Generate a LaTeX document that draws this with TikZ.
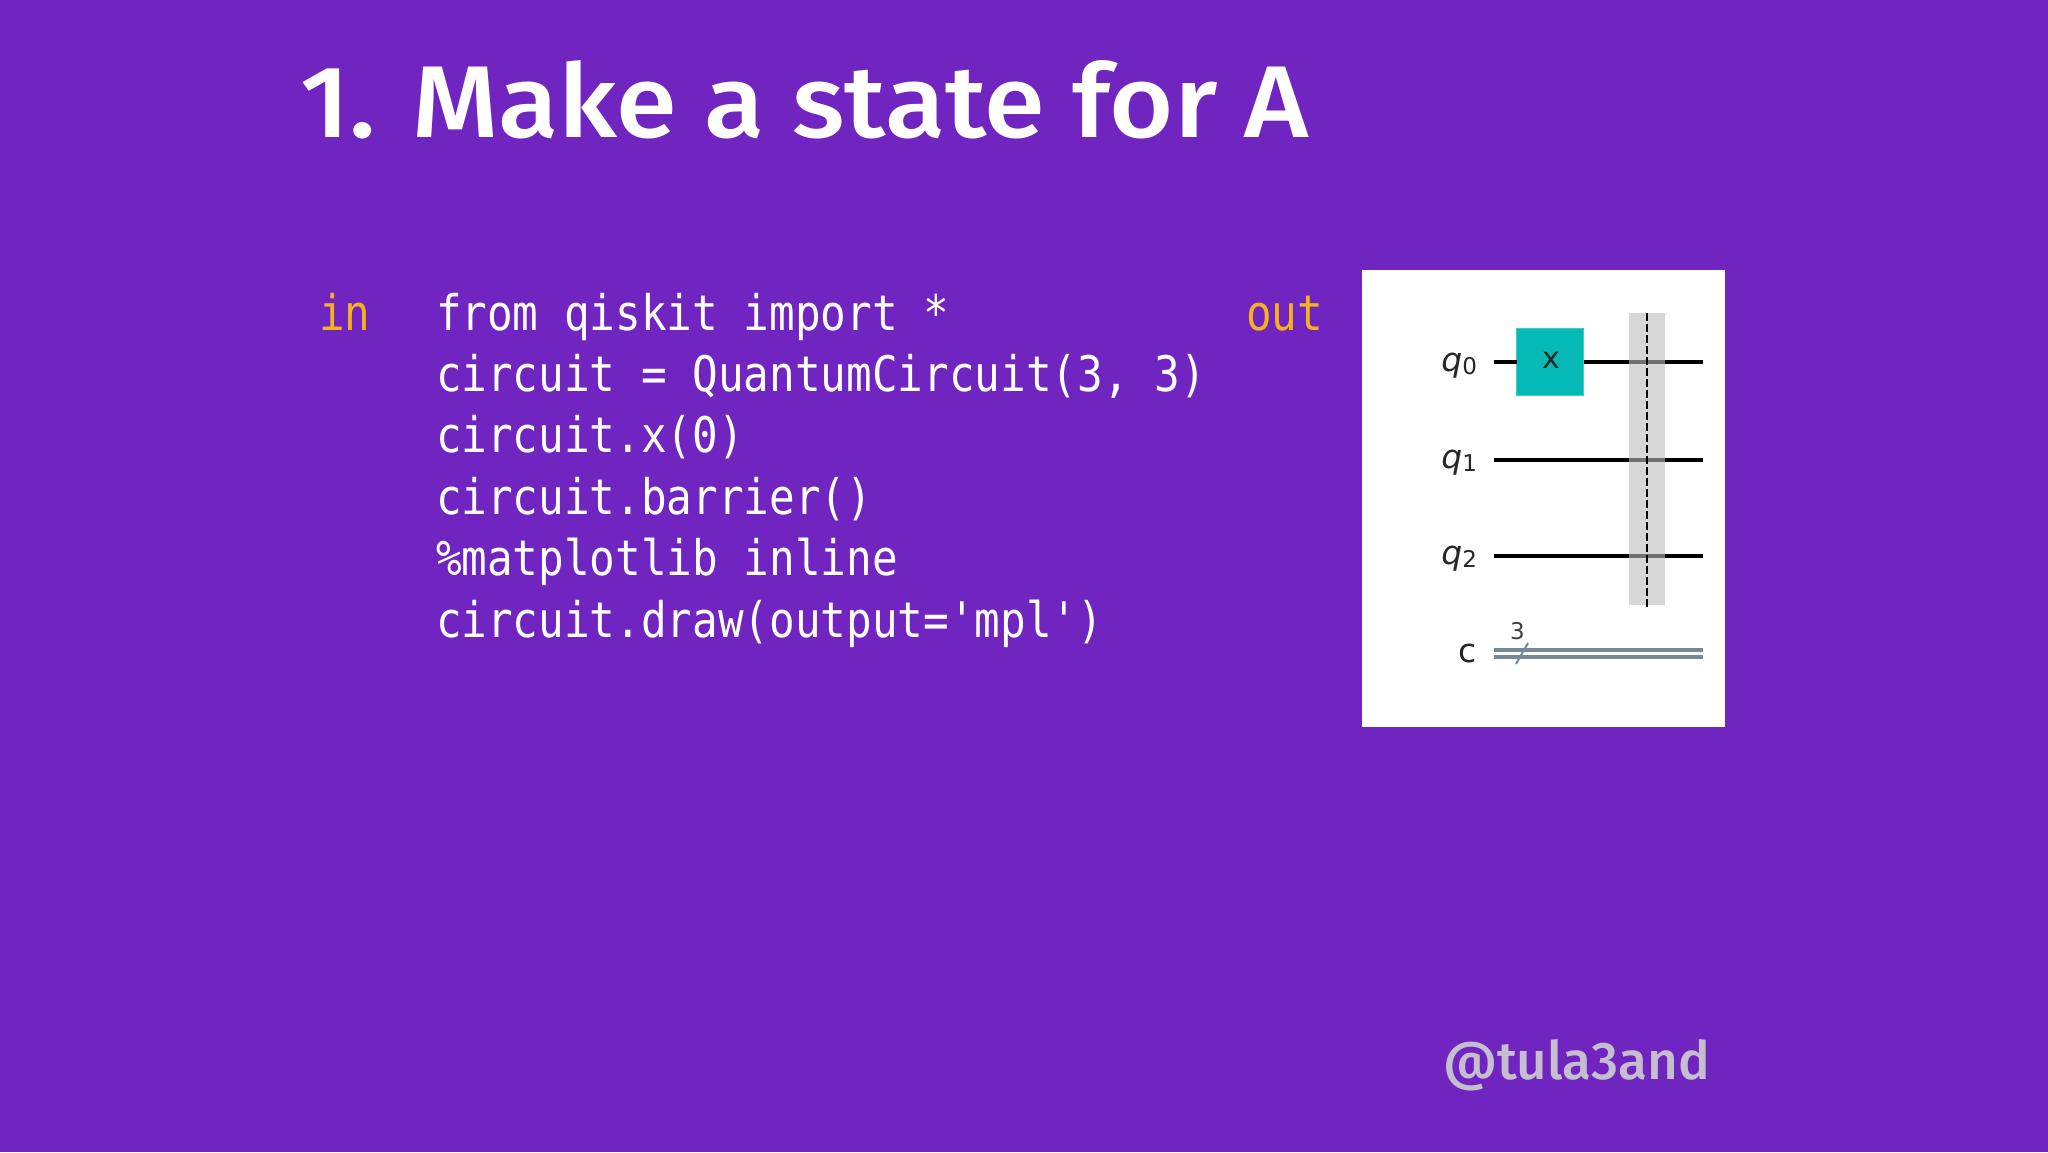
\documentclass[tikz,border=0pt]{standalone}
\usepackage{fontspec}
\setmainfont{Fira Sans}
\newfontfamily\headfont[FakeStretch=1.08]{Fira Sans Medium}
\newfontfamily\markfont{Fira Sans Medium}
\newfontfamily\codefont[FakeStretch=0.87]{DejaVu Sans Mono}
\newfontfamily\mplfont{DejaVu Sans}
\definecolor{fundo}{HTML}{7024C0}
\definecolor{amber}{HTML}{F5B21E}
\definecolor{teal}{HTML}{05BAB6}
\definecolor{slate}{HTML}{778899}
\definecolor{handle}{HTML}{C4BECE}
\begin{document}
\begin{tikzpicture}[
  x=0.5pt, y=-0.5pt,
  every node/.style={inner sep=0pt, outer sep=0pt, anchor=base west}
]
\tikzset{
  title/.style={text=white, font=\fontsize{51}{60}\selectfont\headfont},
  code/.style={text=white, font=\fontsize{24.5}{30}\selectfont\codefont},
  tag/.style={text=amber, font=\fontsize{24.5}{30}\selectfont\codefont},
  reg/.style={anchor=base east, text=black!85, font=\fontsize{16.5}{20}\selectfont\mplfont},
  wire/.style={draw=black, line width=2pt},
  creg/.style={draw=slate, line width=1.9pt}
}
\useasboundingbox (0,0) rectangle (2048,1152);
\fill[fundo] (0,0) rectangle (2048,1152);
\node[title] (head) at (300,137) {1. Make a state for A};
\node[tag] (in) at (319,330) {in};
\node[code] (l1) at (436,330) {from qiskit import *};
\node[code] (l2) at (436,391.4) {circuit = QuantumCircuit(3, 3)};
\node[code] (l3) at (436,452.8) {circuit.x(0)};
\node[code] (l4) at (436,514.2) {circuit.barrier()};
\node[code] (l5) at (436,575.6) {\%matplotlib inline};
\node[code] (l6) at (436,637) {circuit.draw(output='mpl')};
\node[tag] (out) at (1246,330) {out};
% white panel
\node[fill=white, minimum width=181.5pt, minimum height=228.5pt, anchor=north west] (panel) at (1362,270) {};
\node[reg] (q0) at (1477,371) {\itshape q\raisebox{-1.5pt}{\fontsize{11.5}{14}\selectfont\upshape 0}};
\node[reg] (q1) at (1477,468) {\itshape q\raisebox{-1.5pt}{\fontsize{11.5}{14}\selectfont\upshape 1}};
\node[reg] (q2) at (1477,564) {\itshape q\raisebox{-1.5pt}{\fontsize{11.5}{14}\selectfont\upshape 2}};
\node[reg] (c) at (1477,662) {c};
\node[fill=teal, draw=teal!75!white, line width=.5pt, minimum size=33.5pt, anchor=center] (x) at (1550,362) {};
\node[anchor=center, text=black!85, font=\fontsize{15}{18}\selectfont\mplfont] (xlabel) at (1551,360) {x};
\coordinate (a0) at (1494,362);
\coordinate (b0) at (1703,362);
\coordinate (a1) at (1494,460);
\coordinate (b1) at (1703,460);
\coordinate (a2) at (1494,556);
\coordinate (b2) at (1703,556);
\coordinate (a3) at (1494,650);
\coordinate (b3) at (1703,650);
\coordinate (a4) at (1494,657);
\coordinate (b4) at (1703,657);
\draw[wire] (a0) -- (x.west);
\draw[wire] (x.east) -- (b0);
\draw[wire] (a1) -- (b1);
\draw[wire] (a2) -- (b2);
\draw[creg] (a3) -- (b3);
\draw[creg] (a4) -- (b4);
\node[fill=black!26, opacity=.6, minimum width=18pt, minimum height=146pt, anchor=north] (bar) at (1647,313) {};
\draw[black, line width=1pt, dash pattern=on 4pt off 1.5pt] (bar.north) -- ([yshift=-1pt]bar.south);
\coordinate (s1) at (1516,664);
\coordinate (s2) at (1528,643);
\draw[slate, line width=1pt] (s1) -- (s2);
\node[text=black!75, font=\fontsize{11.5}{14}\selectfont\mplfont] (three) at (1510,639) {3};
\node[text=handle, font=\fontsize{26.5}{32}\selectfont\markfont] (handle) at (1443,1079) {@tula3and};
\end{tikzpicture}
\end{document}
